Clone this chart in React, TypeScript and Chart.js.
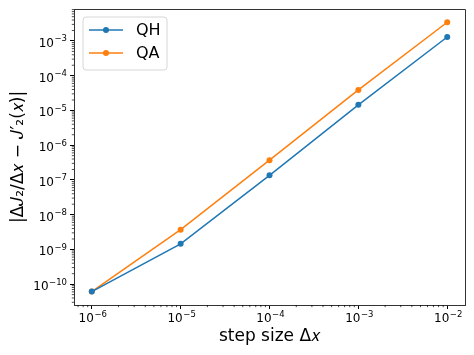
import React, { useEffect, useRef } from "react";
import { Chart, registerables } from "chart.js";

Chart.register(...registerables);

const stepSizes = [1e-6, 1e-5, 1e-4, 1e-3, 1e-2];
const qhErrors = [6.1e-11, 1.45e-9, 1.36e-7, 1.45e-5, 1.3e-3];
const qaErrors = [6.1e-11, 3.7e-9, 3.7e-7, 3.9e-5, 3.45e-3];
const seriesLabels = ["QH", "QA"];
const seriesColors = ["#1f77b4", "#ff7f0e"];
const xMajorTicks = [1e-6, 1e-5, 1e-4, 1e-3, 1e-2];
const yMajorTicks = [1e-10, 1e-9, 1e-8, 1e-7, 1e-6, 1e-5, 1e-4, 1e-3];
const xTitle = "step size Δ𝑥";
const yTitle = "|Δ𝐽₂/Δ𝑥 − 𝐽′₂(𝑥)|";

const FONT = "'DejaVu Sans', sans-serif";

const expOf = (v: number) => {
  const e = Math.round(Math.log10(v));
  return (e < 0 ? "−" : "") + String(Math.abs(e));
};

const drawPow = (ctx: any, v: number, x: number, yBase: number, align: "center" | "right") => {
  const base = "10";
  const exp = expOf(v);
  ctx.font = "12px " + FONT;
  const wb = ctx.measureText(base).width;
  ctx.font = "8.5px " + FONT;
  const we = ctx.measureText(exp).width;
  const total = wb + we + 0.5;
  const left = align === "center" ? x - total / 2 : x - total;
  ctx.textAlign = "left";
  ctx.textBaseline = "alphabetic";
  ctx.font = "12px " + FONT;
  ctx.fillText(base, left, yBase);
  ctx.font = "8.5px " + FONT;
  ctx.fillText(exp, left + wb + 0.5, yBase - 5.5);
};

const axesDecorPlugin = {
  id: "axesDecor",
  afterDraw(chart: any) {
    const ctx = chart.ctx;
    const a = chart.chartArea;
    const xs = chart.scales.x;
    const ys = chart.scales.y;
    ctx.save();
    // top and right spines
    ctx.strokeStyle = "#333";
    ctx.lineWidth = 1;
    ctx.beginPath();
    ctx.moveTo(a.left, a.top + 0.5);
    ctx.lineTo(a.right + 0.5, a.top + 0.5);
    ctx.lineTo(a.right + 0.5, a.bottom);
    ctx.stroke();
    // minor ticks
    ctx.strokeStyle = "#000";
    ctx.lineWidth = 0.7;
    for (let e = -12; e <= 0; e++) {
      for (let k = 2; k <= 9; k++) {
        const v = k * Math.pow(10, e);
        if (v >= xs.min && v <= xs.max) {
          const px = xs.getPixelForValue(v);
          ctx.beginPath();
          ctx.moveTo(px, xs.top);
          ctx.lineTo(px, xs.top + 2.2);
          ctx.stroke();
        }
        if (v >= ys.min && v <= ys.max) {
          const py = ys.getPixelForValue(v);
          ctx.beginPath();
          ctx.moveTo(ys.right, py);
          ctx.lineTo(ys.right - 2.2, py);
          ctx.stroke();
        }
      }
    }
    // tick labels
    ctx.fillStyle = "#000";
    xs.ticks.forEach((t: any) => {
      const px = xs.getPixelForValue(t.value);
      drawPow(ctx, t.value, px + 1, xs.top + 17, "center");
    });
    ys.ticks.forEach((t: any) => {
      const py = ys.getPixelForValue(t.value);
      drawPow(ctx, t.value, ys.right - 7, py + 6, "right");
    });
    ctx.restore();
  },
};

const boxLegendPlugin = {
  id: "boxLegend",
  afterDraw(chart: any) {
    const ctx = chart.ctx;
    const a = chart.chartArea;
    const x0 = a.left + 9;
    const y0 = a.top + 8;
    const w = 84;
    const h = 53;
    ctx.save();
    ctx.beginPath();
    ctx.roundRect(x0, y0, w, h, 3);
    ctx.fillStyle = "rgba(255,255,255,0.8)";
    ctx.fill();
    ctx.strokeStyle = "#d6d6d6";
    ctx.lineWidth = 1;
    ctx.stroke();
    chart.data.datasets.forEach((ds: any, i: number) => {
      const cy = y0 + 13 + i * 23;
      ctx.strokeStyle = ds.borderColor;
      ctx.lineWidth = 1.5;
      ctx.beginPath();
      ctx.moveTo(x0 + 6, cy);
      ctx.lineTo(x0 + 40, cy);
      ctx.stroke();
      ctx.fillStyle = ds.borderColor;
      ctx.beginPath();
      ctx.arc(x0 + 23, cy, 3, 0, Math.PI * 2);
      ctx.fill();
      ctx.fillStyle = "#000";
      ctx.font = "16px " + FONT;
      ctx.textBaseline = "middle";
      ctx.textAlign = "left";
      ctx.fillText(ds.label, x0 + 53, cy + 1);
    });
    ctx.restore();
  },
};

export default function App() {
  const ref = useRef<HTMLCanvasElement | null>(null);
  useEffect(() => {
    if (!ref.current) return;
    const mk = (vals: number[], i: number) => ({
      label: seriesLabels[i],
      data: stepSizes.map((x, j) => ({ x, y: vals[j] })),
      borderColor: seriesColors[i],
      backgroundColor: seriesColors[i],
      borderWidth: 1.5,
      pointRadius: 3,
      pointBorderWidth: 0,
      pointHoverRadius: 3,
      fill: false,
      tension: 0,
    });
    const chart = new Chart(ref.current, {
      type: "line",
      data: { datasets: [mk(qhErrors, 0), mk(qaErrors, 1)] },
      plugins: [axesDecorPlugin, boxLegendPlugin],
      options: {
        animation: false,
        responsive: false,
        maintainAspectRatio: false,
        layout: { padding: { top: 9, right: 9, left: 0, bottom: 0 } },
        plugins: { legend: { display: false }, tooltip: { enabled: false } },
        scales: {
          x: {
            type: "logarithmic",
            min: Math.pow(10, -6.2),
            max: Math.pow(10, -1.8),
            afterBuildTicks: (s: any) => {
              s.ticks = xMajorTicks.map((v) => ({ value: v, major: true }));
            },
            afterFit: (s: any) => {
              s.height = 50;
            },
            ticks: { display: false, autoSkip: false, maxRotation: 0 },
            grid: {
              display: true,
              drawOnChartArea: false,
              drawTicks: true,
              tickLength: 4,
              tickWidth: 1,
              tickColor: "#000",
            },
            border: { display: true, color: "#333", width: 1 },
            title: {
              display: true,
              text: xTitle,
              color: "#000",
              font: { family: FONT, size: 17 },
              padding: { top: 0, bottom: 8 },
            },
          },
          y: {
            type: "logarithmic",
            min: Math.pow(10, -10.6),
            max: Math.pow(10, -2.08),
            afterBuildTicks: (s: any) => {
              s.ticks = yMajorTicks.map((v) => ({ value: v, major: true }));
            },
            afterFit: (s: any) => {
              s.width = 74;
            },
            ticks: { display: false, autoSkip: false },
            grid: {
              display: true,
              drawOnChartArea: false,
              drawTicks: true,
              tickLength: 4,
              tickWidth: 1,
              tickColor: "#000",
            },
            border: { display: true, color: "#333", width: 1 },
            title: {
              display: true,
              text: yTitle,
              color: "#000",
              font: { family: FONT, size: 17 },
              padding: { top: 8, bottom: 0 },
            },
          },
        },
      },
    } as any);
    return () => chart.destroy();
  }, []);
  return (
    <div style={{ position: "absolute", left: 0, top: 0, width: 474, height: 355, background: "#fff" }}>
      <canvas ref={ref} width={474} height={355} style={{ width: 474, height: 355, display: "block" }} />
    </div>
  );
}
